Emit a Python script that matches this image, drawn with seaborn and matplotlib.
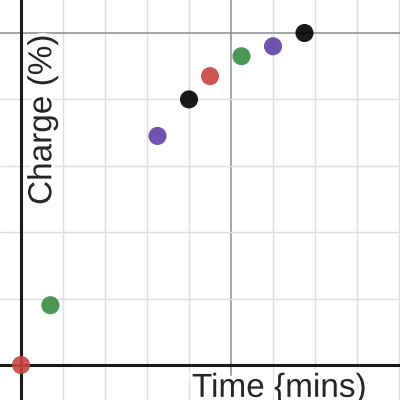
import seaborn as sns
import pandas as pd
import matplotlib.pyplot as plt
import matplotlib.patheffects as pe
from matplotlib.ticker import MultipleLocator

time_mins = [0, 7, 32.5, 40, 45, 52.5, 60, 67.5]
charge_pct = [0, 18, 69, 80, 87, 93, 96, 100]
point_group = ["red", "green", "purple", "black", "red", "green", "purple", "black"]

colors = {"red": "#c74440", "green": "#388c46", "purple": "#6042a6", "black": "#000000"}

df = pd.DataFrame({"time": time_mins, "charge": charge_pct, "group": point_group})

sns.set_style("white")
plt.rcParams["font.family"] = ["Liberation Sans", "DejaVu Sans"]

fig = plt.figure(figsize=(4, 4), dpi=100)
ax = fig.add_axes([0, 0, 1, 1])

ax.set_xlim(-5.0, 90.24)
ax.set_ylim(-10.54, 109.94)

ax.xaxis.set_major_locator(MultipleLocator(50))
ax.xaxis.set_minor_locator(MultipleLocator(10))
ax.yaxis.set_major_locator(MultipleLocator(100))
ax.yaxis.set_minor_locator(MultipleLocator(20))
ax.grid(which="minor", color="#dedede", linewidth=1.0)
ax.grid(which="major", color="#8c8c8c", linewidth=1.1)
ax.tick_params(which="both", length=0, labelbottom=False, labelleft=False)
for s in ax.spines.values():
    s.set_visible(False)
ax.set_axisbelow(True)

ax.axhline(0, color="#1a1a1a", linewidth=2.2, zorder=2)
ax.axvline(0, color="#1a1a1a", linewidth=2.2, zorder=2)

sns.scatterplot(data=df, x="time", y="charge", hue="group", palette=colors,
                s=170, alpha=0.9, edgecolor="none", legend=False, ax=ax, zorder=3)

halo = [pe.withStroke(linewidth=5, foreground="white")]
ax.text(40.7, -9.6, "Time {mins)", fontsize=24, ha="left", va="baseline",
        path_effects=halo, zorder=4)
ax.text(1.5, 48.2, "Charge (%)", fontsize=24, rotation=90, ha="left", va="bottom",
        path_effects=halo, zorder=4)

ax.set_xlabel("")
ax.set_ylabel("")

fig.savefig("out.png", dpi=100, facecolor="white")
